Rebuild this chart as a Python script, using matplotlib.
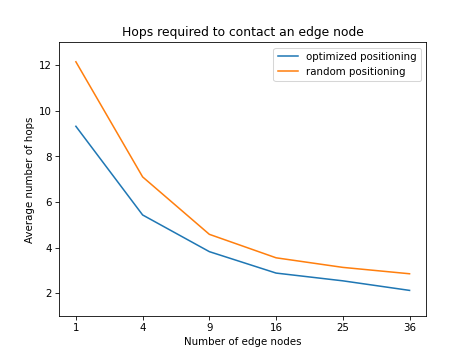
import matplotlib
matplotlib.use('Agg')
import matplotlib.pyplot as plt

# number of edge nodes (plotted as evenly spaced categories)
edge_nodes = ['1', '4', '9', '16', '25', '36']
optimized = [9.32, 5.43, 3.82, 2.88, 2.54, 2.12]
random_pos = [12.15, 7.1, 4.58, 3.55, 3.13, 2.85]

fig = plt.figure(figsize=(6.4, 4.8), dpi=74)
x = range(len(edge_nodes))
plt.plot(x, optimized, label='optimized positioning')
plt.plot(x, random_pos, label='random positioning')
plt.xticks(x, edge_nodes)
plt.ylim(1, 13)
plt.xlabel('Number of edge nodes')
plt.ylabel('Average number of hops')
plt.title('Hops required to contact an edge node')
plt.legend(loc='upper right')
plt.savefig('out.png', dpi=74)
